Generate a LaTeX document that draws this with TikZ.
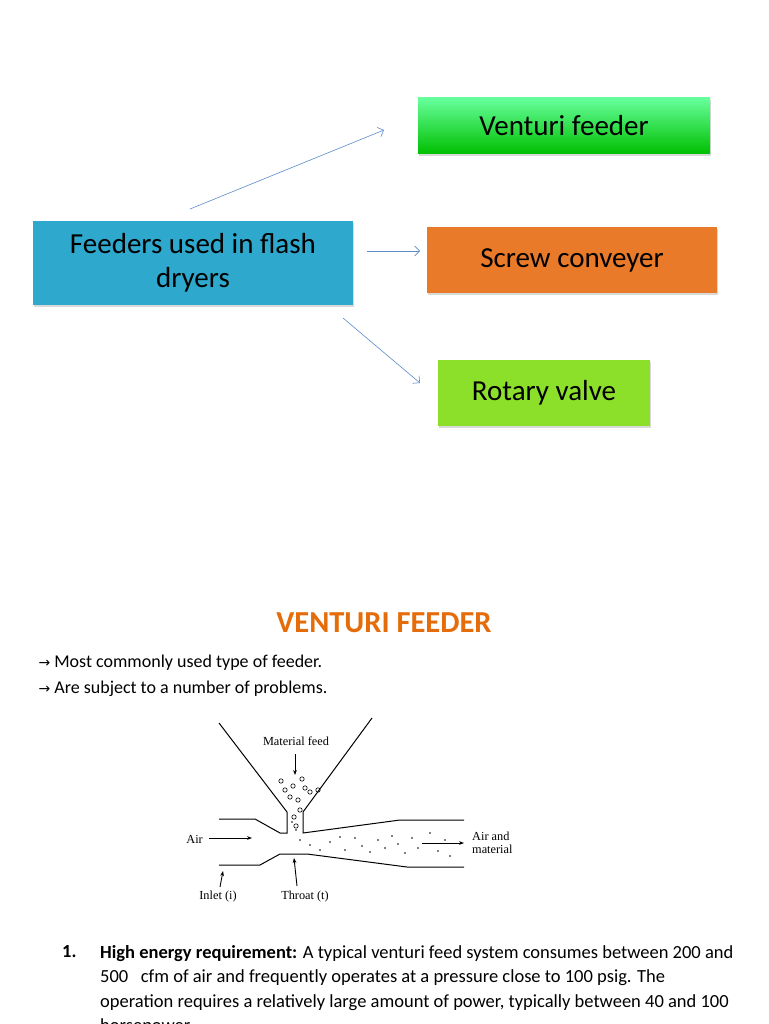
\documentclass[tikz,border=0pt]{standalone}
\usepackage{fontspec}
\setmainfont{Carlito}
\newfontfamily\tms{Liberation Serif}
\newfontfamily\dvs{DejaVu Sans}
\usetikzlibrary{arrows.meta,shadows}
\definecolor{arr}{HTML}{5B8BC9}
\definecolor{ttl}{HTML}{E46C0A}
\begin{document}
\begin{tikzpicture}[x=1pt,y=-1pt,
 box/.style={draw=none,minimum height=#1,font=\fontsize{29}{34}\selectfont,align=center,drop shadow={shadow xshift=1pt,shadow yshift=-2pt,opacity=0.3}},
 conn/.style={draw=arr,-{Straight Barb[length=5pt]},line width=0.6pt},
 pipe/.style={line width=1pt},
 sm/.style={-{Stealth[length=5pt]},line width=0.9pt},
 lab/.style={font=\tms\fontsize{12.3}{13}\selectfont,align=left,inner sep=0pt}]
\path[use as bounding box] (0,0) rectangle (768,1024);
\clip (0,0) rectangle (768,1024);
\node[box=56pt,minimum width=292pt,top color=green!65!cyan!60!white,bottom color=green!75!black,fill=green!70!black] (vf) at (564,126) {Venturi feeder};
\node[box=83pt,minimum width=320pt,fill={rgb,255:red,46;green,168;blue,204}] (fd) at (193,263) {Feeders used in flash\\dryers};
\node[box=66pt,minimum width=290pt,fill={rgb,255:red,232;green,122;blue,42}] (sc) at (572,260) {Screw conveyer};
\node[box=66pt,minimum width=212pt,fill={rgb,255:red,140;green,224;blue,42}] (rv) at (544,393) {Rotary valve};
\coordinate (a1) at (190,209); \coordinate (a2) at (384,130);
\coordinate (b1) at (367,251); \coordinate (b2) at (420,251);
\coordinate (c1) at (343,318); \coordinate (c2) at (420,383);
\draw[conn] (a1) -- (a2);
\draw[conn] (b1) -- (b2);
\draw[conn] (c1) -- (c2);
\node[font=\bfseries\fontsize{30.5}{34}\selectfont,text=ttl] (t) at (384,623) {VENTURI FEEDER};
\node[anchor=west,font=\fontsize{18}{21}\selectfont] (p1) at (35,663) {{\dvs\fontsize{14}{15}\selectfont→}\ Most commonly used type of feeder.};
\node[anchor=west,font=\fontsize{18}{21}\selectfont] (p2) at (35,689) {{\dvs\fontsize{14}{15}\selectfont→}\ Are subject to a number of problems.};
% venturi
\draw[pipe] (219,723) -- (287,812) -- (287,833) -- (280,833) -- (255,819) -- (219,819);
\draw[pipe] (372,718) -- (303,812) -- (303,833) -- (400,820) -- (464,820);
\draw[pipe] (219,865) -- (260,865) -- (280,854) -- (307,854) -- (407,867) -- (464,867);
\foreach \x/\y in {285/790, 293/786, 305/788, 298/800, 290/797, 310/792, 300/810, 294/817, 296/826, 318/790, 281/781, 302/779}
  \draw[line width=0.6pt] (\x,\y) circle (2.2pt);
\foreach \x/\y in {300/840, 310/845, 330/842, 345/850, 355/838, 362/846, 370/852, 378/840, 385/848, 392/836, 398/844, 405/853, 412/838, 418/848, 430/833, 438/851, 445/840, 450/856, 320/850, 340/837, 296/830, 292/822}
  \fill (\x,\y) circle (0.8pt);
\node[lab] (mf) at (296,741) {Material feed};
\coordinate (mfs) at (295,754); \coordinate (mfa) at (295,775);
\draw[sm] (mfs) -- (mfa);
\node[lab,anchor=east] (air) at (203,839) {Air};
\coordinate (airs) at (209,838); \coordinate (aira) at (252,838);
\draw[sm] (airs) -- (aira);
\node[lab,anchor=west] (am) at (472,843) {Air and\\material};
\coordinate (ams) at (422,843); \coordinate (ame) at (464,843);
\draw[sm] (ams) -- (ame);
\node[lab] (in) at (218,897) {Inlet (i)};
\coordinate (ins) at (220,887); \coordinate (ina) at (223,871);
\draw[sm] (ins) -- (ina);
\node[lab] (th) at (305,897) {Throat (t)};
\coordinate (ths) at (297,886); \coordinate (tha) at (294,858);
\draw[sm] (ths) -- (tha);
\node[anchor=north west,font=\bfseries\fontsize{18.5}{24.5}\selectfont,inner sep=0pt] (n1) at (62,945) {1.};
\node[anchor=north west,font=\fontsize{18.5}{24.5}\selectfont,align=left,inner sep=0pt] (txt) at (100,945)
 {\textbf{High energy requirement:} A typical venturi feed system consumes between 200 and\\500\ \ \ cfm of air and frequently operates at a pressure close to 100 psig. The\\operation requires a relatively large amount of power, typically between 40 and 100\\horsepower.};
\end{tikzpicture}
\end{document}
